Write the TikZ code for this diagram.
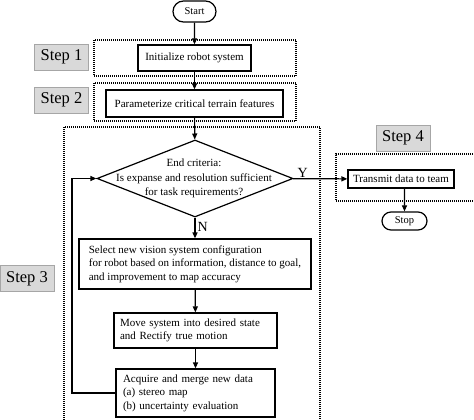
\documentclass[tikz,border=0pt]{standalone}
\usepackage{fontspec}
\setmainfont{Liberation Serif}
\usetikzlibrary{arrows.meta,positioning,shapes.geometric,shapes.misc}

\begin{document}
\begin{tikzpicture}[x=1pt, y=-1pt,
  proc/.style={draw, line width=1.2pt, fill=white, inner sep=0pt, font=\fontsize{11}{13.5}\selectfont},
  term/.style={draw, line width=1.2pt, fill=white, rounded rectangle, inner sep=0pt, font=\fontsize{10.5}{12}\selectfont},
  dec/.style={draw, line width=1.2pt, diamond, inner sep=0pt},
  grp/.style={draw, line width=1.1pt, dash pattern=on 1pt off 1pt, inner sep=0pt},
  steplbl/.style={draw=gray!70, fill=gray!30, minimum width=54pt, minimum height=26pt, inner sep=0pt, font=\fontsize{16.5}{18}\selectfont},
  yn/.style={font=\fontsize{14}{16}\selectfont},
  link/.style={-{Triangle[length=6pt, width=5pt]}, line width=1.2pt},
]
\useasboundingbox (0,0) rectangle (474,420);

% dotted step groups
\node[grp, minimum width=202pt, minimum height=36pt] (g1) at (195,58) {};
\node[grp, minimum width=202pt, minimum height=38pt] (g2) at (195,102) {};
\node[grp, minimum width=256pt, minimum height=296pt] (g3) at (192,275) {};
\node[grp, minimum width=144pt, minimum height=47pt] (g4) at (408,177.5) {};

\foreach \n/\x/\y in {1/61.5/57,2/61.5/100,3/27/278.5,4/403/138}{
  \node[steplbl] (step\n) at (\x,\y) {Step \n};
}

\node[term, minimum width=43pt, minimum height=21pt] (start) at (194.5,11.5) {Start};
\node[proc, minimum width=113pt, minimum height=26pt] (init) at (194.5,58) {Initialize robot system};
\node[proc, minimum width=177pt, minimum height=27pt] (param) at (194.5,103.5) {Parameterize critical terrain features};

\node[dec, minimum width=196pt, minimum height=77pt] (crit) at (195,178.5) {};
\node[font=\fontsize{11}{14.5}\selectfont, align=center] (crittxt) at (194,178.5)
  {End criteria:\\Is expanse and resolution sufficient\\for task requirements?};

\node[proc, minimum width=232pt, minimum height=50pt, align=left, inner xsep=3pt] (select) at (195,264)
  {Select new vision system configuration\\for robot based on information, distance to goal,\\and improvement to map accuracy};
\node[proc, text width=151pt, minimum height=35pt, align=left, inner xsep=6pt] (move) at (195.5,330.5)
  {Move system into desired state\\and Rectify true motion};
\node[proc, text width=145pt, minimum height=48pt, align=left, inner xsep=7pt] (acq) at (195.5,393)
  {Acquire and merge new data\\(a) stereo map\\(b) uncertainty evaluation};

\node[proc, minimum width=106pt, minimum height=18pt] (send) at (401,179) {Transmit data to team};
\node[term, minimum width=45pt, minimum height=18pt] (stop) at (404.5,221) {Stop};

\coordinate (loop) at (72,393);

\draw[link] (start) -- (init);
\draw[link] (init) -- (param);
\draw[link] (param) -- (crit);
\draw[link] (crit) -- node[yn, above, pos=0.18, inner sep=1pt]{Y} (send);
\draw[link] (crit) -- node[yn, right, pos=0.45, inner sep=2pt]{N} (select);
\draw[link] (select) -- (move);
\draw[link] (move) -- (acq);
\draw[link] (stop |- send.south) -- (stop);
\draw[link] (acq.west) -- (loop) |- (crit.west);
\end{tikzpicture}
\end{document}
